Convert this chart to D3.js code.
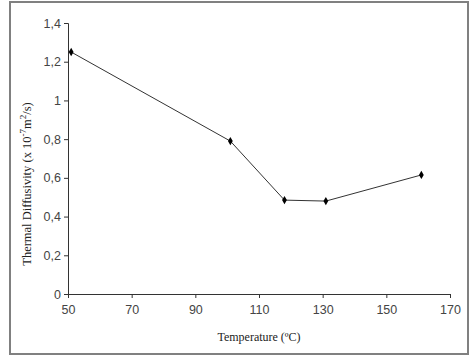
<!DOCTYPE html>
<html><head><meta charset="utf-8">
<script src="https://cdn.jsdelivr.net/npm/d3@7"></script>
<style>body{margin:0;background:#fff}svg{display:block}</style>
</head><body>
<script>
const temperature = [51, 101, 118, 131, 161];
const diffusivity = [1.25, 0.79, 0.485, 0.48, 0.615];
const xTicks = [50, 70, 90, 110, 130, 150, 170];
const yTicks = [0, 0.2, 0.4, 0.6, 0.8, 1, 1.2, 1.4];

const W = 474, H = 358;
const svg = d3.select("body").append("svg").attr("width", W).attr("height", H);

svg.append("rect").attr("x", 10).attr("y", 2).attr("width", 458).attr("height", 352)
  .attr("fill", "#fff").attr("stroke", "#808080").attr("stroke-width", 2);

const x = d3.scaleLinear().domain([50, 170]).range([68, 450]);
const y = d3.scaleLinear().domain([0, 1.4]).range([294, 23]);

const fmt = d => d === 0 ? "0" : d === 1 ? "1" : d3.format(".1f")(d).replace(".", ",");

const xa = svg.append("g").attr("transform", "translate(0,294)")
  .call(d3.axisBottom(x).tickValues(xTicks).tickSizeOuter(0).tickSize(4).tickFormat(d => d));
const ya = svg.append("g").attr("transform", "translate(68,0)")
  .call(d3.axisLeft(y).tickValues(yTicks).tickSizeOuter(0).tickSize(4).tickFormat(fmt));

[xa, ya].forEach(a => {
  a.select(".domain").attr("stroke", "#333");
  a.selectAll(".tick line").attr("stroke", "#333");
  a.selectAll("text").attr("fill", "#444").attr("font-family", "Liberation Sans, Arial, sans-serif").attr("font-size", 12.5);
});
xa.selectAll("text").attr("dy", "1.05em");
ya.selectAll("text").attr("x", -7);

const pts = temperature.map((t, i) => [t, diffusivity[i]]);
svg.append("path").datum(pts)
  .attr("d", d3.line().x(d => x(d[0])).y(d => y(d[1])))
  .attr("fill", "none").attr("stroke", "#333").attr("stroke-width", 1);

svg.selectAll(".m").data(pts).enter().append("path")
  .attr("transform", d => `translate(${x(d[0])},${y(d[1])})`)
  .attr("d", d3.symbol(d3.symbolDiamond, 20))
  .attr("fill", "#000");

svg.append("text").attr("x", 259).attr("y", 341).attr("text-anchor", "middle")
  .attr("font-family", "Liberation Serif, Times New Roman, serif").attr("font-size", 12)
  .attr("fill", "#222").text("Temperature (ºC)");

const yt = svg.append("text").attr("transform", "translate(31,184) rotate(-90)")
  .attr("text-anchor", "middle")
  .attr("font-family", "Liberation Serif, Times New Roman, serif").attr("font-size", 12.5)
  .attr("fill", "#222");
yt.append("tspan").text("Thermal Diffusivity (x 10");
yt.append("tspan").attr("dy", -5).attr("font-size", 9).text("-7");
yt.append("tspan").attr("dy", 5).text("m");
yt.append("tspan").attr("dy", -5).attr("font-size", 9).text("2");
yt.append("tspan").attr("dy", 5).text("/s)");
</script>
</body></html>
